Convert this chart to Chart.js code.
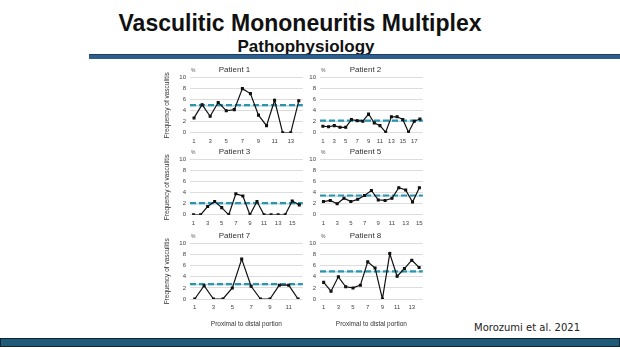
<!DOCTYPE html>
<html>
<head>
<meta charset="utf-8">
<script src="https://cdn.jsdelivr.net/npm/chart.js@4/dist/chart.umd.min.js"></script>
<style>
  body { margin: 0; width: 620px; height: 349px; background: #fff; position: relative; overflow: hidden;
         font-family: "Liberation Sans", Arial, sans-serif; }
  .title { position: absolute; left: 0; width: 600px; text-align: center; font-weight: bold; color: #111; }
  #t1 { top: 10px; font-size: 23px; }
  #t2 { top: 37px; font-size: 17px; left: 6px; }
  #bar1 { position: absolute; left: 89px; top: 54px; width: 531px; height: 4px; background: #2d5f8e; border-top: 1px solid #1d3f60; }
  #bar2 { position: absolute; left: 0; top: 338px; width: 618px; height: 7px; background: #1f5b79; border: 1px solid #0c2733; }
  #cite { position: absolute; left: 474px; top: 322px; font-size: 10px; color: #222; font-family: "DejaVu Sans", sans-serif; }
  .panel { position: absolute; }
</style>
</head>
<body>
<div class="title" id="t1">Vasculitic Mononeuritis Multiplex</div>
<div class="title" id="t2">Pathophysiology</div>
<div id="bar1"></div>
<div id="bar2"></div>
<div id="cite">Morozumi et al. 2021</div>

<div class="panel" style="left:163px;top:63px"><canvas id="c0" width="145" height="87"></canvas></div>
<div class="panel" style="left:305px;top:63px"><canvas id="c1" width="123" height="87"></canvas></div>
<div class="panel" style="left:163px;top:145px"><canvas id="c2" width="145" height="87"></canvas></div>
<div class="panel" style="left:305px;top:145px"><canvas id="c3" width="123" height="87"></canvas></div>
<div class="panel" style="left:163px;top:229px"><canvas id="c4" width="145" height="99"></canvas></div>
<div class="panel" style="left:305px;top:229px"><canvas id="c5" width="123" height="99"></canvas></div>

<script>
// data (% frequency of vasculitis per segment)
const patientNames = ['Patient 1', 'Patient 2', 'Patient 3', 'Patient 5', 'Patient 7', 'Patient 8'];
const patient1 = [2.7, 5.1, 3.0, 5.5, 4.0, 4.2, 8.0, 7.1, 3.2, 1.3, 5.9, 0, 0, 5.8];
const patient2 = [1.2, 1.1, 1.3, 1.0, 1.0, 2.4, 2.2, 2.1, 3.4, 1.8, 1.3, 0.1, 2.9, 2.9, 2.4, 0.1, 2.1, 2.5];
const patient3 = [0, 0, 1.5, 2.4, 1.3, 0, 3.8, 3.4, 0, 2.4, 0, 0, 0, 0, 2.5, 1.8];
const patient5 = [2.4, 2.6, 2.0, 3.0, 2.4, 2.8, 3.5, 4.4, 2.7, 2.6, 3.0, 4.9, 4.5, 2.3, 4.9];
const patient7 = [0, 2.4, 0, 0, 2.0, 7.2, 2.3, 0, 0, 2.5, 2.5, 0];
const patient8 = [3.0, 1.4, 4.0, 2.2, 2.0, 2.5, 6.7, 5.6, 0, 8.2, 4.1, 5.5, 7.0, 5.7];
const meanValues = [5.0, 2.2, 2.1, 3.5, 2.7, 5.0];
const yTicks = [0, 2, 4, 6, 8, 10];

const allSeries = [patient1, patient2, patient3, patient5, patient7, patient8];

// dashed mean line + the little "%" above the y axis
const meanLine = {
  id: 'meanLine',
  beforeDatasetsDraw(chart, args, opts) {
    const ctx = chart.ctx;
    const y = chart.scales.y.getPixelForValue(opts.value);
    const { left, right } = chart.chartArea;
    ctx.save();
    ctx.strokeStyle = '#a9dcec';
    ctx.lineWidth = 1.5;
    ctx.beginPath(); ctx.moveTo(left, y + 0.5); ctx.lineTo(right, y + 0.5); ctx.stroke();
    ctx.strokeStyle = '#2f93ad';
    ctx.lineWidth = 2.2;
    ctx.setLineDash([6, 3]);
    ctx.beginPath(); ctx.moveTo(left, y); ctx.lineTo(right, y); ctx.stroke();
    ctx.restore();
  },
  afterDraw(chart) {
    const ctx = chart.ctx;
    ctx.save();
    ctx.fillStyle = '#555';
    ctx.font = '5px "Liberation Sans", Arial';
    ctx.textBaseline = 'middle';
    ctx.fillText('%', chart.chartArea.left + 1, chart.chartArea.top - 7);
    ctx.restore();
  }
};

function drawPanel(i) {
  const data = allSeries[i];
  const isLeft = i % 2 === 0;
  const isBottom = i >= 4;
  const labels = data.map((v, k) => String(k + 1));

  const config = {
    type: 'line',
    data: {
      labels: labels,
      datasets: [{
        data: data,
        borderColor: '#111',
        borderWidth: 1.2,
        backgroundColor: '#111',
        pointStyle: 'rect',
        pointRadius: 1.3,
        tension: 0
      }]
    },
    plugins: [meanLine],
    options: {
      responsive: false,
      animation: false,
      layout: { padding: { left: 0, right: 2, top: 0, bottom: 0 } },
      plugins: {
        legend: { display: false },
        tooltip: { enabled: false },
        title: {
          display: true,
          text: patientNames[i],
          color: '#333',
          font: { size: 8, weight: 'normal', family: '"Liberation Sans", Arial' },
          padding: { top: 2, bottom: 3 }
        },
        meanLine: { value: meanValues[i] }
      },
      scales: {
        x: {
          offset: true,
          grid: { display: false, drawTicks: false },
          border: { display: false },
          ticks: {
            autoSkip: false,
            maxRotation: 0,
            color: '#444',
            padding: 5,
            font: { size: 6, family: '"Liberation Sans", Arial' },
            callback: function(val, idx) { return idx % 2 === 0 ? this.getLabelForValue(val) : ''; }
          },
          title: {
            display: isBottom,
            text: 'Proximal to distal portion',
            color: '#333',
            font: { size: 6.5, family: '"Liberation Sans", Arial' },
            padding: { top: 4, bottom: 0 }
          }
        },
        y: {
          min: 0,
          max: 10,
          afterBuildTicks: (scale) => { scale.ticks = yTicks.map(v => ({ value: v })); },
          afterFit: (scale) => { scale.width = isLeft ? 27 : 15; },
          grid: { color: '#d4d4d4', lineWidth: 0.8, drawTicks: false },
          border: { display: false },
          ticks: {
            autoSkip: false,
            color: '#444',
            padding: 4,
            font: { size: 6, family: '"Liberation Sans", Arial' }
          },
          title: {
            display: isLeft,
            text: 'Frequency of vasculitis',
            color: '#333',
            font: { size: 6.5, family: '"Liberation Sans", Arial' },
            padding: { top: 0, bottom: 1 }
          }
        }
      }
    }
  };

  new Chart(document.getElementById('c' + i), config);
}

for (let i = 0; i < 6; i++) drawPanel(i);
</script>
</body>
</html>
